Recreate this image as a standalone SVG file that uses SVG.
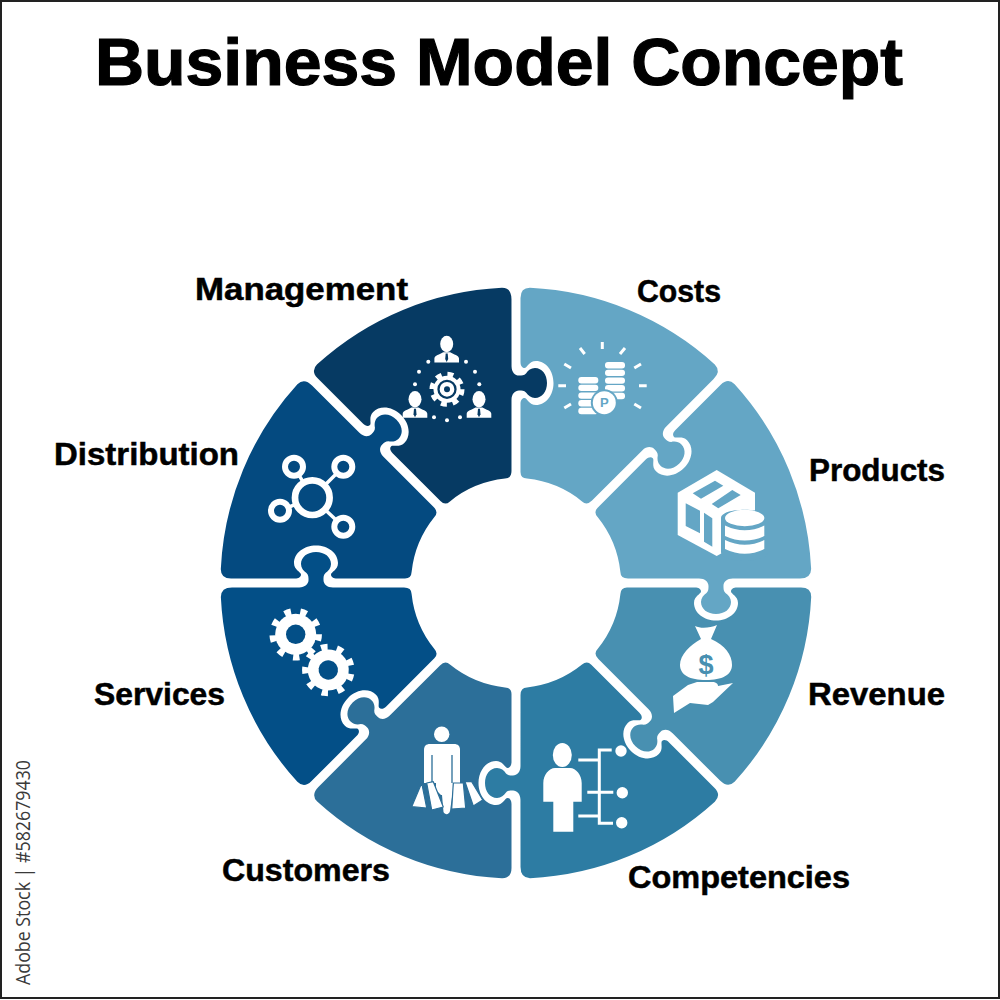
<svg xmlns="http://www.w3.org/2000/svg" width="1000" height="1000" viewBox="0 0 1000 1000">
<style>
.lbl{font-family:"Liberation Sans",Arial,sans-serif;font-weight:700;font-size:31px;fill:#000;stroke:#000;stroke-width:.5}
.w{fill:#fff}
.ws{stroke:#fff;fill:none}
.ray{stroke:#fff;stroke-width:3;fill:none}
.coin{fill:#fff}
</style>
<defs>
<path id="piece" d="M4.5,-221 L4.5,-285 Q4.5,-295.3 14,-295.2 A295.5,295.5 0 0 1 198.8,-218.6 Q205.4,-211.8 197.6,-204 L150.3,-156.6 C146,-152.4 146,-147.4 148.8,-144.6 C150.97,-142.48 152.38,-141.07 155.21,-141.07 C158.74,-141.77 162.63,-141.42 165.46,-138.59 C170.41,-133.64 169.35,-125.51 163.34,-119.5 C157.33,-113.49 149.2,-112.43 144.25,-117.38 C141.42,-120.21 141.07,-124.1 141.77,-127.63 C141.77,-130.46 140.36,-131.87 138.24,-134 C135.41,-136.82 130.46,-136.82 126.22,-132.58 L76.01,-82.38 Q70.71,-77.07 66.04,-81.6 A105,105 0 0 0 11,-104.4 Q4.5,-104.7 4.5,-111 L4.5,-179 C4.5,-182.5 6,-185 8.5,-185 C11,-185 13,-178 20,-178 C30,-178 37.5,-188 37.5,-200 C37.5,-212 30,-222 20,-222 C13,-222 11,-215 8.5,-215 C6,-215 4.5,-217.5 4.5,-221 Z"/>
<g id="gear">
<circle r="23" fill="none" stroke="#fff" stroke-width="6.5" stroke-dasharray="6.5 9.56"/>
<circle r="20.5" fill="#fff"/>
<circle r="9.7" fill="#034f87"/>
</g>
<g id="person">
<ellipse cx="0" cy="0" rx="6.5" ry="8.2" fill="#fff"/>
<path d="M-12.3,18.5 L-12.3,14.5 C-12.3,11.5 -7,10.5 -3.5,8.3 L3.5,8.3 C7,10.5 12.3,11.5 12.3,14.5 L12.3,18.5 Z" fill="#fff"/>
<path d="M-1,9.5 L1,9.5 L1.5,15 L0,18 L-1.5,15 Z" fill="#063a63"/>
</g>
<g id="stack">
<rect class="coin" x="0" y="0" width="20" height="6.4" rx="3"/>
<rect class="coin" x="0" y="7.7" width="20" height="6.4" rx="3"/>
<rect class="coin" x="0" y="15.4" width="20" height="6.4" rx="3"/>
<rect class="coin" x="0" y="23.1" width="20" height="6.4" rx="3"/>
<rect class="coin" x="0" y="30.8" width="20" height="6.4" rx="3"/>
</g>
</defs>
<rect x="1" y="1" width="998" height="997" fill="#fff" stroke="#222" stroke-width="2"/>
<text id="title" x="95" y="85" textLength="808" lengthAdjust="spacingAndGlyphs" font-family="'Liberation Sans',Arial,sans-serif" font-weight="700" font-size="67" fill="#000" stroke="#000" stroke-width="1.2">Business Model Concept</text>
<g id="connectors"></g>

<g id="costs">
<use href="#piece" transform="translate(516,583)" fill="#64a6c5"/>
<path class="ray" d="M602.3,342V349M580,348L584.7,354M625,348L620,354M564.3,364L571,368M641,364L634.3,368M558.3,385.7H566M639,385.7H646.7M564.3,408L571,404M641,408L634.3,404"/>
<use href="#stack" x="605" y="362"/>
<use href="#stack" x="578.3" y="377"/>
<circle cx="604.3" cy="402.7" r="13.5" fill="#64a6c5"/>
<circle cx="604.3" cy="402.7" r="11.5" fill="#fff"/>
<text x="604.3" y="407.3" text-anchor="middle" font-family="'Liberation Sans',Arial,sans-serif" font-weight="700" font-size="13" fill="#64a6c5">P</text>
<text class="lbl" x="637" y="302" textLength="84" lengthAdjust="spacingAndGlyphs">Costs</text>
</g>

<g id="products">
<use href="#piece" transform="translate(516,583) rotate(45)" fill="#64a6c5"/>
<path class="w" d="M716.7,470 L755,492.7 V535 L716.7,556 L677.7,535 V492.7 Z"/>
<path fill="#64a6c5" d="M685.7,503.3 L700,510.7 V533.3 L685.7,526 Z M704,512.7 L712.3,518.3 V546.7 L704,541.7 Z M692.7,493.3 L715,480.7 L723.3,485.7 L701,498.7 Z M711.7,504 L732.3,490 L740.7,495 L718.3,508.3 Z"/>
<path fill="#64a6c5" d="M721,518 C721,507 768,507 768,518 V552 C768,564 721,564 721,552 Z"/>
<ellipse class="w" cx="744.7" cy="518" rx="19.7" ry="8.3"/>
<path class="w" d="M725,525.5 Q744.7,535 764.3,525.5 V536 Q744.7,545 725,536 Z"/>
<path class="w" d="M725,540 Q744.7,549.5 764.3,540 V549 Q744.7,558.5 725,549 Z"/>
<text class="lbl" x="809" y="481" textLength="136" lengthAdjust="spacingAndGlyphs">Products</text>
</g>

<g id="revenue">
<use href="#piece" transform="translate(516,583) rotate(90)" fill="#4890b1"/>
<path class="w" d="M695,626 C701,629 710,628 717,625 L711,639 C725,645 732,655 732,665 C732,675 722,680 706,680 C690,680 680,675 680,665 C680,655 690,645 701,639 Z"/>
<text x="706" y="674" text-anchor="middle" font-family="'Liberation Sans',Arial,sans-serif" font-size="27" font-weight="700" fill="#4890b1">$</text>
<path class="w" d="M673,696 L688,685 L697,682 L712,682 C716,682 718,684 718,686 L733,683 L713,702 L708,705 L690,703 L674,713 Z"/>
<text class="lbl" x="808" y="705" textLength="137" lengthAdjust="spacingAndGlyphs">Revenue</text>
</g>

<g id="competencies">
<use href="#piece" transform="translate(516,583) rotate(135)" fill="#2d7ca3"/>
<ellipse class="w" cx="562.3" cy="755" rx="9.5" ry="12"/>
<path class="w" d="M543.3,801.7 H553.3 V831.7 H573.3 V801.7 H581.7 V783 C581.7,775 576,768 570,768 H555 C549,768 543.3,775 543.3,783 Z"/>
<path class="ws" stroke-width="3" d="M611.7,750 H599.3 V823.3 H613 M578.3,760 H599.3 M587.3,792.3 H613.3 M578.3,816 H599.3"/>
<circle class="w" cx="621" cy="751" r="5.7"/>
<circle class="w" cx="622.3" cy="792.7" r="5.7"/>
<circle class="w" cx="621.7" cy="822.7" r="5.7"/>
<text class="lbl" x="628" y="888" textLength="222" lengthAdjust="spacingAndGlyphs">Competencies</text>
</g>

<g id="customers">
<use href="#piece" transform="translate(516,583) rotate(180)" fill="#2c6f99"/>
<circle class="w" cx="441.7" cy="734.3" r="7.7"/>
<path class="w" d="M424,750 C424,746 426,744 430,744 H454 C458,744 460,746 460,750 V783 H453 V790 L450,811 C449,815 445,815 443.5,812 L442,795 L441,795 L436,790 V783 H424 Z"/>
<path fill="none" stroke="#2c6f99" stroke-width="1.3" d="M432,755 V783 M452,755 V783"/>
<path class="w" stroke="#2c6f99" stroke-width="1.2" stroke-linejoin="round" d="M411.7,806.7 L421.7,783 L426.7,808 Z M426.7,783 L433.3,781.7 L443.3,807 L431.7,810 Z M453.3,783 L463.3,783 L465.7,808 L451.7,809 Z M465,781.7 L471.7,781.7 L482.7,800 L473.3,806 Z"/>
<text class="lbl" x="222" y="881" textLength="168" lengthAdjust="spacingAndGlyphs">Customers</text>
</g>

<g id="services">
<use href="#piece" transform="translate(516,583) rotate(225)" fill="#034f87"/>
<use href="#gear" transform="translate(295.7,634.3)"/>
<use href="#gear" transform="translate(328.3,670) rotate(10)"/>
<text class="lbl" x="94" y="705" textLength="131" lengthAdjust="spacingAndGlyphs">Services</text>
</g>

<g id="distribution">
<use href="#piece" transform="translate(516,583) rotate(270)" fill="#044a80"/>
<path class="ws" stroke-width="3.5" d="M312.3,497.7 L294,466.7 M312.3,497.7 L343.3,466.7 M312.3,497.7 L280,510.7 M312.3,497.7 L343.3,526.7"/>
<circle cx="312.3" cy="497.7" r="17.3" fill="#044a80" stroke="#fff" stroke-width="6.7"/>
<circle cx="294" cy="466.7" r="9" fill="#044a80" stroke="#fff" stroke-width="6"/>
<circle cx="343.3" cy="466.7" r="9" fill="#044a80" stroke="#fff" stroke-width="6"/>
<circle cx="280" cy="510.7" r="9" fill="#044a80" stroke="#fff" stroke-width="6"/>
<circle cx="343.3" cy="526.7" r="9" fill="#044a80" stroke="#fff" stroke-width="6"/>
<text class="lbl" x="54" y="465" textLength="185" lengthAdjust="spacingAndGlyphs">Distribution</text>
</g>

<g id="management">
<use href="#piece" transform="translate(516,583) rotate(315)" fill="#063a63"/>
<use href="#person" x="446.7" y="344"/>
<use href="#person" x="415" y="399.3"/>
<use href="#person" x="479" y="399.3"/>
<circle cx="447" cy="389.3" r="15" fill="none" stroke="#fff" stroke-width="5" stroke-dasharray="5.9 5.88"/>
<circle class="w" cx="447" cy="389.3" r="13.5"/>
<circle cx="447" cy="389.3" r="8.5" fill="none" stroke="#063a63" stroke-width="2.3"/>
<circle cx="447" cy="389.3" r="3" fill="#063a63"/>
<g class="w">
<circle cx="428.3" cy="361.7" r="2"/><circle cx="466" cy="361.7" r="2"/>
<circle cx="419" cy="371.7" r="2"/><circle cx="475" cy="371.7" r="2"/>
<circle cx="415" cy="384.3" r="2"/><circle cx="479.3" cy="384.3" r="2"/>
<circle cx="434" cy="417.3" r="2"/><circle cx="447" cy="420.3" r="2"/><circle cx="460" cy="417.3" r="2"/>
</g>
<text class="lbl" x="195" y="300" textLength="213" lengthAdjust="spacingAndGlyphs">Management</text>
</g>

<text transform="translate(30,985) rotate(-90)" textLength="225" lengthAdjust="spacingAndGlyphs" font-family="'Open Sans','Liberation Sans',sans-serif" font-size="20" fill="#3a3a3a">Adobe Stock | #582679430</text>
</svg>
